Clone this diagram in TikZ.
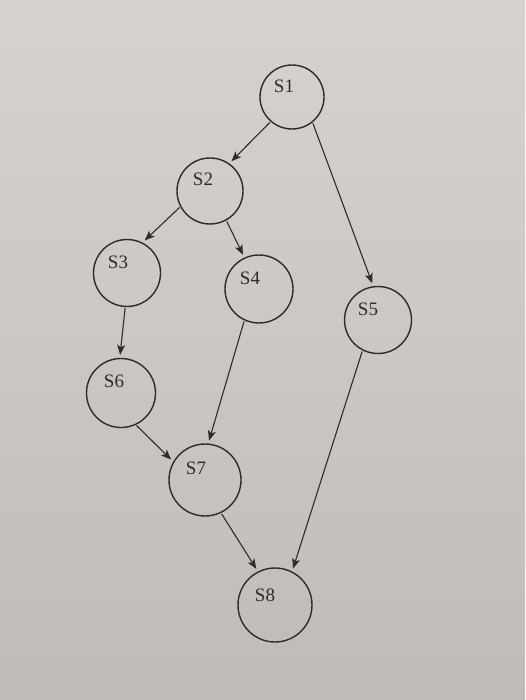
\documentclass[tikz,border=0pt]{standalone}
\usepackage{fontspec}
\setmainfont{Liberation Serif}
\usetikzlibrary{arrows.meta}
\definecolor{paperTop}{RGB}{214,211,207}
\definecolor{paperBot}{RGB}{192,187,182}
\definecolor{ink}{RGB}{45,43,43}
\tikzset{
  st/.style={circle, draw=ink, line width=1.4pt, inner sep=0pt},
  lbl/.style={font=\fontsize{19}{19}\selectfont, text=ink, inner sep=0pt},
  conn/.style={draw=ink, line width=1.1pt, -{Stealth[length=10pt,width=8pt,inset=2.5pt]}, shorten >=3pt, shorten <=1pt}
}
\begin{document}
\begin{tikzpicture}[x=1pt,y=1pt]
\useasboundingbox (0,0) rectangle (525,-700);
\shade[shading angle=20, top color=paperTop, bottom color=paperBot] (0,0) rectangle (525,-700);
\node[st, minimum size=64pt, label={[lbl, xshift=-8pt, yshift=11pt]center:S1}] (S1) at (292,-97) {};
\node[st, minimum size=66pt, label={[lbl, xshift=-7pt, yshift=11.5pt]center:S2}] (S2) at (210,-191) {};
\node[st, minimum size=67pt, label={[lbl, xshift=-9pt, yshift=11pt]center:S3}] (S3) at (127,-273) {};
\node[st, minimum size=68pt, label={[lbl, xshift=-9pt, yshift=11pt]center:S4}] (S4) at (259,-289) {};
\node[st, minimum size=67pt, label={[lbl, xshift=-10pt, yshift=11pt]center:S5}] (S5) at (378,-320) {};
\node[st, minimum size=69pt, label={[lbl, xshift=-7pt, yshift=12pt]center:S6}] (S6) at (121,-393) {};
\node[st, minimum size=72pt, label={[lbl, xshift=-9pt, yshift=12pt]center:S7}] (S7) at (205,-480) {};
\node[st, minimum size=74pt, label={[lbl, xshift=-10pt, yshift=10pt]center:S8}] (S8) at (275,-605) {};
\draw[conn] (S1.-131) -- (S2.55);
\draw[conn] (S1.-51) -- (S5.98);
\draw[conn] (S2.-152) -- (S3.63);
\draw[conn] (S2.-61) -- (S4.115);
\draw[conn] (S3.-93) -- (S6.92);
\draw[conn] (S4.-115) -- (S7.85);
\draw[conn] (S6.-65) -- (S7.150);
\draw[conn] (S7.-64) -- (S8.117);
\draw[conn] (S5.-117) -- (S8.63);
\end{tikzpicture}
\end{document}
